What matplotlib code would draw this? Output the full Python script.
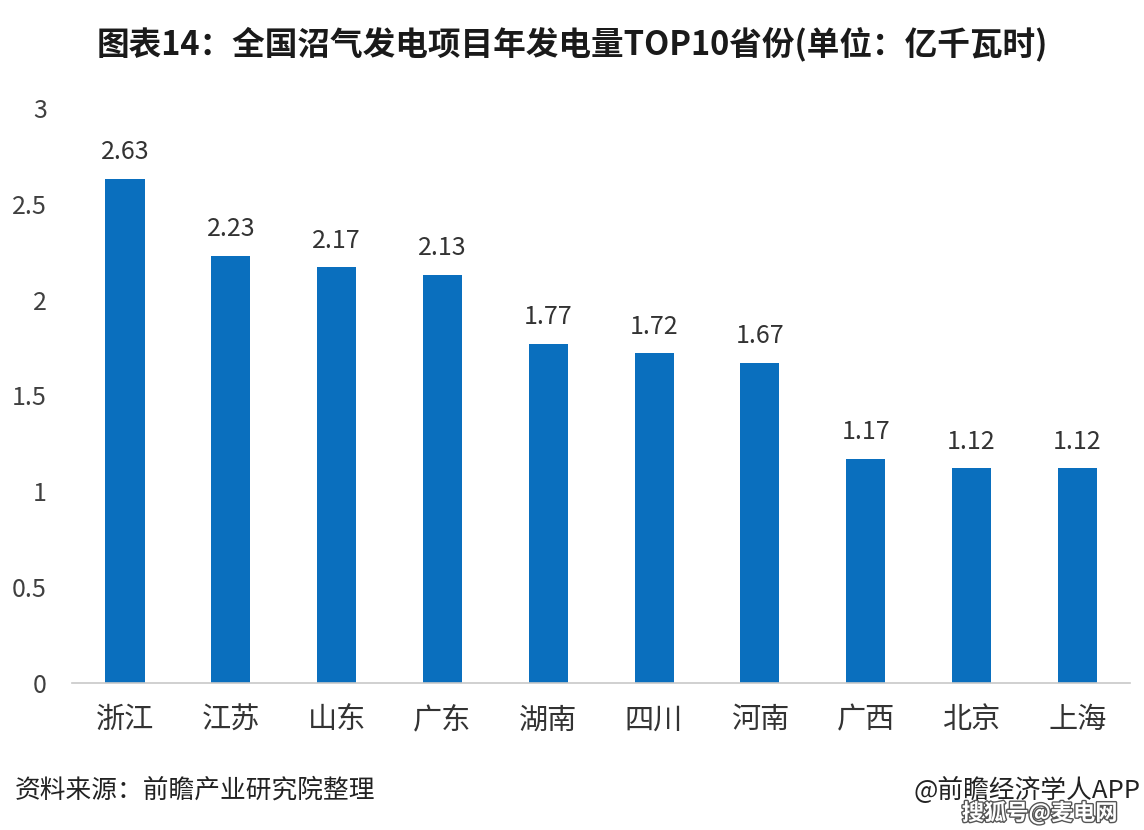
import matplotlib.pyplot as plt
import matplotlib.patheffects as pe

plt.rcParams['font.family'] = ['Noto Sans CJK SC', 'DejaVu Sans']

# data
provinces = ['浙江', '江苏', '山东', '广东', '湖南', '四川', '河南', '广西', '北京', '上海']
output_values = [2.63, 2.23, 2.17, 2.13, 1.77, 1.72, 1.67, 1.17, 1.12, 1.12]
y_ticks = [0, 0.5, 1, 1.5, 2, 2.5, 3]
y_tick_labels = ['0', '0.5', '1', '1.5', '2', '2.5', '3']

fig = plt.figure(figsize=(11.44, 8.3), dpi=100)
ax = fig.add_axes([0.063, 0.177, 0.925, 0.693])

x = range(len(provinces))
ax.bar(x, output_values, width=0.37, color='#0A6FBE')

for xi, v in zip(x, output_values):
    ax.text(xi, v + 0.07, f'{v:.2f}', ha='center', va='bottom',
            fontsize=18, color='#333333')

ax.set_xlim(-0.5, 9.5)
ax.set_ylim(0, 3)
ax.set_yticks(y_ticks)
ax.set_yticklabels(y_tick_labels, fontsize=18, color='#404040')
ax.set_xticks(list(x))
ax.set_xticklabels(provinces, fontsize=21, color='#333333')
ax.tick_params(axis='both', length=0)
ax.tick_params(axis='x', pad=16)
ax.tick_params(axis='y', pad=18)

for side in ['top', 'right', 'left']:
    ax.spines[side].set_visible(False)
ax.spines['bottom'].set_color('#C8C8C8')
ax.spines['bottom'].set_linewidth(1.2)

fig.text(0.5, 0.947, '图表14：全国沼气发电项目年发电量TOP10省份(单位：亿千瓦时)',
         ha='center', va='center', fontsize=23.5, fontweight='bold', color='#1A1A1A')
fig.text(0.013, 0.048, '资料来源：前瞻产业研究院整理', ha='left', va='center',
         fontsize=18.5, color='#222222')
fig.text(0.997, 0.048, '@前瞻经济学人APP', ha='right', va='center',
         fontsize=18.5, color='#222222')
fig.text(0.977, 0.02, '搜狐号@麦电网', ha='right', va='center',
         fontsize=16, fontweight='bold', color='white',
         path_effects=[pe.withStroke(linewidth=2, foreground='#555555')])

fig.savefig('out.png', dpi=100)
